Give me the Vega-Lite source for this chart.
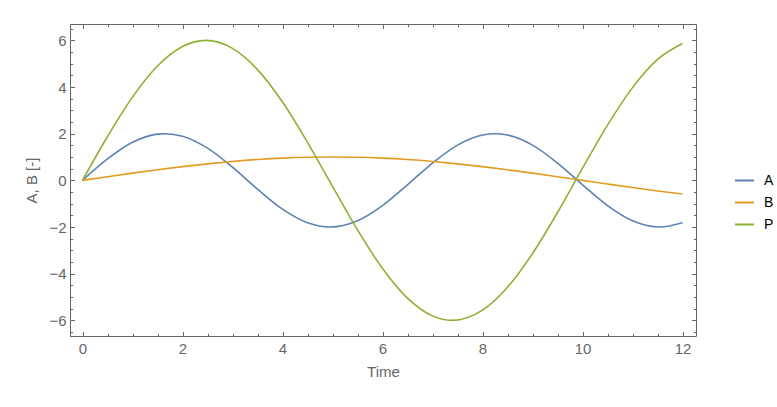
{
  "$schema": "https://vega.github.io/schema/vega-lite/v6.json",
  "width": 626,
  "height": 312,
  "autosize": {"type": "none"},
  "padding": {"left": 70, "top": 24, "right": 81, "bottom": 71},
  "config": {
    "font": "Liberation Sans",
    "view": {"stroke": "#666", "strokeWidth": 1}
  },
  "data": {
    "values": [
      {"t": 0, "series": "A", "v": 0}, {"t": 0.5, "series": "A", "v": 0.916}, {"t": 1, "series": "A", "v": 1.63},
      {"t": 1.5, "series": "A", "v": 1.98}, {"t": 1.65, "series": "A", "v": 2}, {"t": 2, "series": "A", "v": 1.89}, {"t": 2.5, "series": "A", "v": 1.38},
      {"t": 3, "series": "A", "v": 0.563}, {"t": 3.5, "series": "A", "v": -0.379}, {"t": 4, "series": "A", "v": -1.236},
      {"t": 4.5, "series": "A", "v": -1.819}, {"t": 4.95, "series": "A", "v": -2}, {"t": 5.5, "series": "A", "v": -1.732},
      {"t": 6, "series": "A", "v": -1.081}, {"t": 6.5, "series": "A", "v": -0.19}, {"t": 7, "series": "A", "v": 0.743},
      {"t": 7.5, "series": "A", "v": 1.511}, {"t": 8, "series": "A", "v": 1.943}, {"t": 8.25, "series": "A", "v": 2}, {"t": 8.5, "series": "A", "v": 1.943},
      {"t": 9, "series": "A", "v": 1.511}, {"t": 9.5, "series": "A", "v": 0.743}, {"t": 10, "series": "A", "v": -0.19},
      {"t": 10.5, "series": "A", "v": -1.081}, {"t": 11, "series": "A", "v": -1.732}, {"t": 11.55, "series": "A", "v": -2},
      {"t": 12, "series": "A", "v": -1.819},
      {"t": 0, "series": "B", "v": 0}, {"t": 0.5, "series": "B", "v": 0.1564}, {"t": 1, "series": "B", "v": 0.309},
      {"t": 1.5, "series": "B", "v": 0.454}, {"t": 2, "series": "B", "v": 0.5878}, {"t": 2.5, "series": "B", "v": 0.7071},
      {"t": 3, "series": "B", "v": 0.809}, {"t": 3.5, "series": "B", "v": 0.891}, {"t": 4, "series": "B", "v": 0.9511},
      {"t": 4.5, "series": "B", "v": 0.9877}, {"t": 5, "series": "B", "v": 1}, {"t": 5.5, "series": "B", "v": 0.9877},
      {"t": 6, "series": "B", "v": 0.9511}, {"t": 6.5, "series": "B", "v": 0.891}, {"t": 7, "series": "B", "v": 0.809},
      {"t": 7.5, "series": "B", "v": 0.7071}, {"t": 8, "series": "B", "v": 0.5878}, {"t": 8.5, "series": "B", "v": 0.454},
      {"t": 9, "series": "B", "v": 0.309}, {"t": 9.5, "series": "B", "v": 0.1564}, {"t": 10, "series": "B", "v": 0},
      {"t": 10.5, "series": "B", "v": -0.1564}, {"t": 11, "series": "B", "v": -0.309}, {"t": 11.5, "series": "B", "v": -0.454},
      {"t": 12, "series": "B", "v": -0.5878},
      {"t": 0, "series": "P", "v": 0}, {"t": 0.5, "series": "P", "v": 1.879}, {"t": 1, "series": "P", "v": 3.568},
      {"t": 1.5, "series": "P", "v": 4.901}, {"t": 2, "series": "P", "v": 5.738}, {"t": 2.47, "series": "P", "v": 6},
      {"t": 3, "series": "P", "v": 5.656}, {"t": 3.5, "series": "P", "v": 4.745}, {"t": 4, "series": "P", "v": 3.356},
      {"t": 4.5, "series": "P", "v": 1.63}, {"t": 5, "series": "P", "v": -0.26}, {"t": 5.5, "series": "P", "v": -2.125},
      {"t": 6, "series": "P", "v": -3.774}, {"t": 6.5, "series": "P", "v": -5.045}, {"t": 7, "series": "P", "v": -5.808},
      {"t": 7.4, "series": "P", "v": -6}, {"t": 8, "series": "P", "v": -5.564}, {"t": 8.5, "series": "P", "v": -4.581},
      {"t": 9, "series": "P", "v": -3.137}, {"t": 9.5, "series": "P", "v": -1.378}, {"t": 10, "series": "P", "v": 0.52},
      {"t": 10.5, "series": "P", "v": 2.366}, {"t": 11, "series": "P", "v": 3.974}, {"t": 11.5, "series": "P", "v": 5.183},
      {"t": 12, "series": "P", "v": 5.868}
    ]
  },
  "layer": [
    {
      "mark": {"type": "line", "strokeWidth": 1.6, "interpolate": "monotone"},
      "encoding": {
        "x": {
          "field": "t", "type": "quantitative",
          "scale": {"domain": [-0.25, 12.27], "nice": false, "zero": false},
          "axis": {
            "orient": "bottom", "title": "Time", "grid": false, "domain": false,
            "values": [0, 0.5, 1, 1.5, 2, 2.5, 3, 3.5, 4, 4.5, 5, 5.5, 6, 6.5, 7, 7.5, 8, 8.5, 9, 9.5, 10, 10.5, 11, 11.5, 12],
            "labelExpr": "datum.value % 2 === 0 ? format(datum.value, 'd') : ''",
            "tickSize": {"condition": {"test": "datum.value % 2 === 0", "value": -4.5}, "value": -2.7},
            "tickColor": "#666", "labelColor": "#666", "labelFontSize": 15, "labelPadding": 10,
            "labelOverlap": false, "labelFlush": false,
            "titleColor": "#666", "titleFontSize": 15, "titleFontWeight": "normal", "titlePadding": 6
          }
        },
        "y": {
          "field": "v", "type": "quantitative",
          "scale": {"domain": [-6.67, 6.7], "nice": false, "zero": false},
          "axis": {
            "orient": "left", "title": "A, B [-]", "grid": false, "domain": false,
            "values": [-6.5, -6, -5.5, -5, -4.5, -4, -3.5, -3, -2.5, -2, -1.5, -1, -0.5, 0, 0.5, 1, 1.5, 2, 2.5, 3, 3.5, 4, 4.5, 5, 5.5, 6, 6.5],
            "labelExpr": "datum.value % 2 === 0 ? format(datum.value, 'd') : ''",
            "tickSize": {"condition": {"test": "datum.value % 2 === 0", "value": -4.5}, "value": -2.7},
            "tickColor": "#666", "labelColor": "#666", "labelFontSize": 15, "labelPadding": 8.5,
            "labelOverlap": false, "labelFlush": false,
            "titleColor": "#666", "titleFontSize": 15, "titleFontWeight": "normal", "titlePadding": 9
          }
        },
        "color": {
          "field": "series", "type": "nominal",
          "scale": {"domain": ["A", "B", "P"], "range": ["#5E81B5", "#E19C24", "#8FB032"]},
          "legend": {
            "title": null, "orient": "none", "legendX": 664, "legendY": 146,
            "symbolType": "stroke", "symbolSize": 361, "symbolStrokeWidth": 2,
            "labelFontSize": 14, "labelColor": "#000", "labelOffset": 9, "rowPadding": 4
          }
        }
      }
    },
    {
      "mark": {"type": "line", "opacity": 0},
      "encoding": {
        "x": {
          "field": "t", "type": "quantitative",
          "axis": {
            "orient": "top", "title": null, "labels": false, "grid": false, "domain": false,
            "values": [0, 0.5, 1, 1.5, 2, 2.5, 3, 3.5, 4, 4.5, 5, 5.5, 6, 6.5, 7, 7.5, 8, 8.5, 9, 9.5, 10, 10.5, 11, 11.5, 12],
            "tickSize": {"condition": {"test": "datum.value % 2 === 0", "value": -4.5}, "value": -2.7},
            "tickColor": "#666"
          }
        },
        "y": {
          "field": "v", "type": "quantitative",
          "axis": {
            "orient": "right", "title": null, "labels": false, "grid": false, "domain": false,
            "values": [-6.5, -6, -5.5, -5, -4.5, -4, -3.5, -3, -2.5, -2, -1.5, -1, -0.5, 0, 0.5, 1, 1.5, 2, 2.5, 3, 3.5, 4, 4.5, 5, 5.5, 6, 6.5],
            "tickSize": {"condition": {"test": "datum.value % 2 === 0", "value": -4.5}, "value": -2.7},
            "tickColor": "#666"
          }
        }
      }
    }
  ],
  "resolve": {"axis": {"x": "independent", "y": "independent"}}
}
